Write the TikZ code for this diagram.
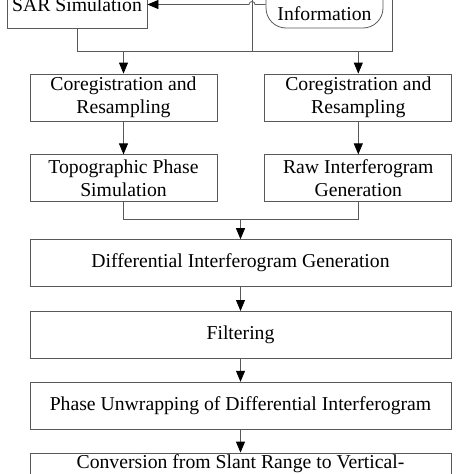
\documentclass[tikz,border=0pt]{standalone}
\usepackage{fontspec}
\setmainfont{Liberation Serif}
\usetikzlibrary{arrows.meta, positioning}

\begin{document}
\begin{tikzpicture}[
        x=1pt, y=-1pt,
        node distance=33pt,
        box/.style={rectangle, draw=black!65, line width=0.8pt, minimum height=47pt, align=center, inner sep=0pt, font=\fontsize{19.7}{23.5}\selectfont},
        smallbox/.style={box, minimum width=187pt},
        widebox/.style={box, minimum width=421pt},
        flow/.style={draw=black!65, line width=0.8pt},
        arr/.style={flow, -{Triangle[length=11pt, width=9pt, color=black]}}
    ]
        \useasboundingbox (0,0) rectangle (474,474);
        \clip (0,0) rectangle (474,474);

        \node[box, minimum width=140pt] (sar) at (77,4.5) {SAR Simulation};
        \node[box, rounded corners=20pt, minimum width=117pt] (info) at (324.5,4.5) {\strut\\Information\strut};

        \node[smallbox] (coregL) at (123.5,97.5) {Coregistration and\\Resampling};
        \node[smallbox, right=47pt of coregL] (coregR) {Coregistration and\\Resampling};
        \node[smallbox, below=of coregL] (topo) {Topographic Phase\\Simulation};
        \node[smallbox, below=of coregR] (raw) {Raw Interferogram\\Generation};

        \node[widebox, below=37pt of topo.south west, anchor=north west] (diff) {Differential Interferogram Generation};
        \node[widebox, below=24pt of diff] (filt) {Filtering};
        \node[widebox, below=23pt of filt] (unwrap) {Phase Unwrapping of Differential Interferogram};
        \node[widebox, below=23pt of unwrap] (conv) {Conversion from Slant Range to Vertical-\\\strut};

        % free ends coming from above
        \coordinate (demin) at (252,-10);
        \coordinate (orbin) at (392,-10);
        \coordinate (bus) at (0,51);

        \draw[flow] (sar.south) -- (sar.south |- bus) -- (orbin |- bus) -- (orbin);
        \draw[flow] (demin) -- (demin |- bus);
        \draw[arr] (info.west) -- ([xshift=3pt]demin |- info.west) arc[start angle=0, end angle=180, radius=3pt] -- (sar.east);
        \draw[arr] (coregL.north |- bus) -- (coregL.north);
        \draw[arr] (coregR.north |- bus) -- (coregR.north);

        \draw[arr] (coregL) -- (topo);
        \draw[arr] (coregR) -- (raw);
        \draw[flow] (topo.south) |- ([yshift=20pt]diff.north) -| (raw.south);
        \draw[arr] ([yshift=20pt]diff.north) -- (diff.north);

        \draw[arr] (diff) -- (filt);
        \draw[arr] (filt) -- (unwrap);
        \draw[arr] (unwrap) -- (conv);
    \end{tikzpicture}
\end{document}
